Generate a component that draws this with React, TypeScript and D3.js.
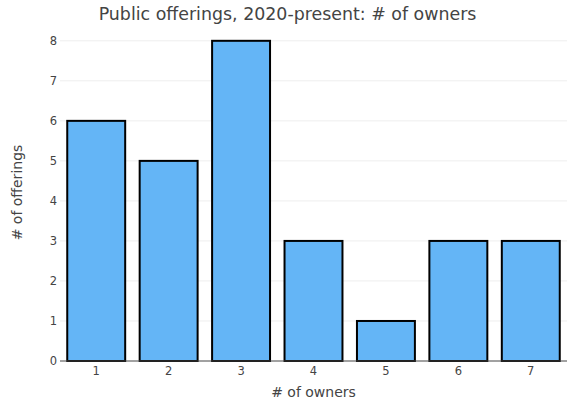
import { useRef, useEffect } from 'react';
import * as d3 from 'd3';

const categories = ['1', '2', '3', '4', '5', '6', '7'];
const offerings = [6, 5, 8, 3, 1, 3, 3];
const yTicks = [0, 1, 2, 3, 4, 5, 6, 7, 8];

const FONT = '"DejaVu Sans", Verdana, sans-serif';

export default function App() {
  const svgRef = useRef<SVGSVGElement>(null);

  useEffect(() => {
    document.body.style.margin = '0';
    if (!svgRef.current) return;

    const width = 575;
    const height = 400;
    const svg = d3.select(svgRef.current);
    svg.selectAll('*').remove();
    svg.attr('width', width).attr('height', height);

    const margin = { top: 24, right: 8, bottom: 39, left: 60 };
    const innerHeight = height - margin.top - margin.bottom;

    // plotly-style bars: 0.8 of each category slot, centred
    const xScale = d3
      .scaleBand()
      .domain(categories)
      .range([margin.left, width - margin.right])
      .paddingInner(0.2)
      .paddingOuter(0.1);

    const yScale = d3
      .scaleLinear()
      .domain([0, 8.42])
      .range([margin.top + innerHeight, margin.top]);

    // Gridlines
    svg
      .selectAll('.grid')
      .data(yTicks.filter((t) => t > 0))
      .join('line')
      .attr('x1', margin.left)
      .attr('x2', width - margin.right)
      .attr('y1', (d) => yScale(d))
      .attr('y2', (d) => yScale(d))
      .attr('stroke', '#eee')
      .attr('stroke-width', 1);

    // Bars
    svg
      .selectAll('.bar')
      .data(offerings)
      .join('rect')
      .attr('x', (_, i) => xScale(categories[i]) || 0)
      .attr('width', xScale.bandwidth())
      .attr('y', (d) => yScale(d))
      .attr('height', (d) => yScale(0) - yScale(d))
      .attr('fill', '#64b5f6')
      .attr('stroke', '#000')
      .attr('stroke-width', 2);

    // Bottom axis line
    svg
      .append('line')
      .attr('x1', margin.left)
      .attr('x2', width - margin.right)
      .attr('y1', yScale(0))
      .attr('y2', yScale(0))
      .attr('stroke', '#444')
      .attr('stroke-width', 1);

    // Y tick labels
    svg
      .selectAll('.ytick')
      .data(yTicks)
      .join('text')
      .attr('x', margin.left - 3)
      .attr('y', (d) => yScale(d))
      .attr('dy', '0.35em')
      .attr('text-anchor', 'end')
      .attr('font-family', FONT)
      .attr('font-size', 11.5)
      .attr('fill', '#444')
      .text((d) => d);

    // X tick labels
    svg
      .selectAll('.xtick')
      .data(categories)
      .join('text')
      .attr('x', (d) => (xScale(d) || 0) + xScale.bandwidth() / 2)
      .attr('y', yScale(0) + 14)
      .attr('text-anchor', 'middle')
      .attr('font-family', FONT)
      .attr('font-size', 11.5)
      .attr('fill', '#444')
      .text((d) => d);

    // Title
    svg
      .append('text')
      .attr('x', width / 2)
      .attr('y', 20)
      .attr('text-anchor', 'middle')
      .attr('font-family', FONT)
      .attr('font-size', 17.4)
      .attr('fill', '#444')
      .text('Public offerings, 2020-present: # of owners');

    // X axis title
    svg
      .append('text')
      .attr('x', (margin.left + width - margin.right) / 2)
      .attr('y', 397)
      .attr('text-anchor', 'middle')
      .attr('font-family', FONT)
      .attr('font-size', 14)
      .attr('fill', '#444')
      .text('# of owners');

    // Y axis title
    svg
      .append('text')
      .attr('transform', `translate(22,${margin.top + innerHeight / 2}) rotate(-90)`)
      .attr('text-anchor', 'middle')
      .attr('font-family', FONT)
      .attr('font-size', 14)
      .attr('fill', '#444')
      .text('# of offerings');
  }, []);

  return <svg ref={svgRef} style={{ display: 'block' }} />;
}
